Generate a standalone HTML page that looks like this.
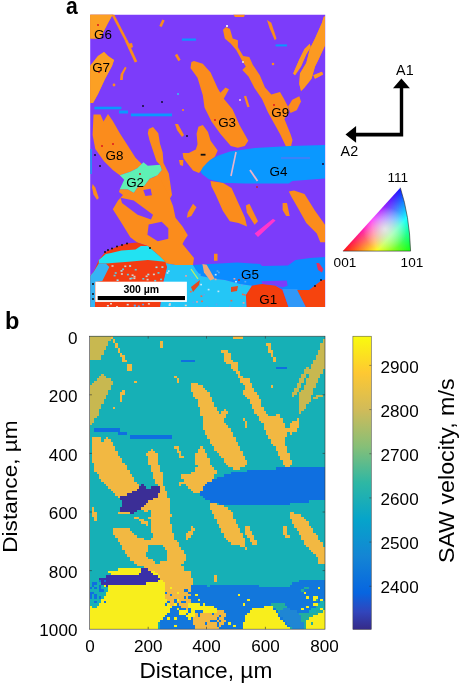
<!DOCTYPE html><html><head><meta charset="utf-8"><title>Figure</title><style>html,body{margin:0;padding:0;background:#fff}svg{display:block}text{font-family:'Liberation Sans',Arial,sans-serif;fill:#000}</style></head><body>
<svg width="460" height="685" viewBox="0 0 460 685">
<defs>
<clipPath id="c1"><rect x="0.2" y="0.8" width="235" height="292.2"/></clipPath>
<clipPath id="c2"><rect x="0" y="0" width="235.5" height="293"/></clipPath>
<linearGradient id="par" x1="0" y1="1" x2="0" y2="0"><stop offset="0" stop-color="#352a87"/><stop offset="0.06" stop-color="#3145bc"/><stop offset="0.125" stop-color="#0765e0"/><stop offset="0.25" stop-color="#1485d4"/><stop offset="0.375" stop-color="#06a4ca"/><stop offset="0.5" stop-color="#2eb7a4"/><stop offset="0.625" stop-color="#87bf77"/><stop offset="0.75" stop-color="#d1bb59"/><stop offset="0.875" stop-color="#fec832"/><stop offset="1" stop-color="#f9fb0e"/></linearGradient>
<linearGradient id="gr" gradientUnits="userSpaceOnUse" x1="342.9" y1="251.1" x2="408.8" y2="240.4"><stop offset="0" stop-color="#ff1010"/><stop offset="0.5" stop-color="#ff1010"/><stop offset="1" stop-color="#000"/></linearGradient>
<linearGradient id="gg" gradientUnits="userSpaceOnUse" x1="410.6" y1="251.1" x2="373.4" y2="217.4"><stop offset="0" stop-color="#10ff10"/><stop offset="0.5" stop-color="#10ff10"/><stop offset="1" stop-color="#000"/></linearGradient>
<linearGradient id="gb" gradientUnits="userSpaceOnUse" x1="400.3" y1="187.7" x2="400.3" y2="251.1"><stop offset="0" stop-color="#1010ff"/><stop offset="0.5" stop-color="#1010ff"/><stop offset="1" stop-color="#000"/></linearGradient>
<radialGradient id="gw" gradientUnits="userSpaceOnUse" cx="385" cy="229" r="22"><stop offset="0" stop-color="#aaa"/><stop offset="1" stop-color="#000"/></radialGradient>
<clipPath id="tri"><path d="M342.9 251.1 L400.3 187.7 Q409.5 216 410.6 251.1 Z"/></clipPath>
</defs>
<rect width="460" height="685" fill="#fff"/>
<g transform="translate(90,14)" clip-path="url(#c1)"><rect x="0" y="0" width="236" height="294" fill="#7c3cfa"/><g fill="#fb8c1c" color="#fb8c1c"><polygon points="0,0 23,0 18,9 10,24.5 0,24.5"/><polygon points="0,52 8,42 14,38 18,42 24,46 22,52 15,65 8,80 3,89 0,89"/><polygon points="35,52.7 36.6,53.8 33.3,60.3 32.8,66 30,66 30.6,60.3"/><circle cx="24" cy="71" r="1.4"/><polygon points="101.4,48 104,47 112.8,49.8 120.6,58.5 127.7,74.3 130.3,78.7 135.5,73.4 139,75.2 133.8,84.8 142.5,95.3 149.5,111 158.3,126.8 154.8,132 147.8,133.8 140.8,132 130.3,119.8 121.5,107.5 114.5,93.5 112.8,81.3 107.5,63.8 100.5,54"/><polygon points="108.4,112.8 112.8,111 118,118 120.6,126.8 127.7,136.4 125,142.6 116.3,149.6 111,156.6 100.5,153 93.5,144.3 92.6,139 98.8,139 105.8,135.6 107.5,130.3 106.6,119.8"/><polygon points="133,15.8 136,13 140,14.9 142.7,24.5 147.9,26.3 147.9,33.3 153.2,42 159.3,42.9 162.8,50.8 169.8,61.3 175,73.5 181.3,80.5 190,78 193.5,84 198,92.8 198.8,98 194.4,105 200.5,120 202.5,126 201,132.5 196,132.5 190,120 177.8,98 172,85 164.5,74 158.5,62.5 152.3,56 155.8,52.5 151.4,45.5 146.2,35.9 140.9,29.8 134.8,24.5"/><polygon points="198,92.8 202.3,85.8 209.3,82.3 211,87.5 206.7,96.3 200.5,99"/><polygon points="235,2 233.5,3.4 232,8.8 225,24.5 219.8,35 216.3,49 210,59.5 209.3,70 211,77 214.5,73.5 221.5,64.8 225,52.5 228.5,45.5 235,31.5"/><polygon points="219.8,29.8 214.5,35 209.3,45.5 203.2,59.5 205,61.3 211,52.5 216.3,40.3 220.6,33.3"/><polygon points="223.3,61.3 232,57.8 233,60.4 225,64.8"/><polygon points="177,6 181.3,8.8 186.5,24.5 184.8,26.3 179.5,14"/><circle cx="183" cy="50" r="1.3"/><polygon points="143,0 155,0 154,3 145,3"/><polygon points="3.5,100.5 10.5,100.5 13.5,107.5 18,100 22.8,107 29.8,119.3 37.7,131.5 45.5,143.8 52.5,150.8 47.3,154.3 40.3,157.8 29.8,161.3 22.8,156 14,147.3 5.3,135 2.6,121"/><polygon points="58.7,115 63,113 68.3,119.3 70,129.8 72.7,138.5 73.5,149 78.8,159.5 82,181 80.3,184 77,184 70,170 67.4,161.3 71.8,156 70,150.8 66.5,147.3 63,136.8 59.5,126.3 57.8,119.3"/><polygon points="85,110 88,110 94,121 92,123 87,116"/><polygon points="2.6,170 5.3,173.6 8.8,184 7,185.8 3.5,180.6 2,173.6"/><polygon points="29.8,175.3 37.7,175.3 43.8,178.8 47.3,173.6 54.3,171.8 59.5,164.8 64,163 68,160.5 73,170 79.5,183 83,192 85.5,203.8 92.5,212.5 97.8,221.3 94.3,226.5 92.5,230 104,244 103,251 85.5,251 75,249.3 70,242.5 57.8,232 47.3,228.5 40.3,223.3 30.6,207.5 22.8,195.3 28,186.5 33,181 29,178"/><polygon points="103,189.8 106.5,193.3 101.3,202 96.9,203.8 97.8,198.5"/><polygon points="95,146 118.8,146 112.7,154.8 109,159 103,156.5"/><polygon points="89,146 93.4,146 93,152 90,151"/><polygon points="120.5,167 132.8,168.8 141.5,174 155,203.8 157,212.5 148.5,209 139.8,207.3 132.8,196.8 125.8,181 121.4,172.3"/><polygon points="155.9,191.5 159.4,189.8 168,207.3 164.6,210.8 156.8,198.5"/><polygon points="192.6,189 197,189 199.7,202 196.2,202 192.6,196"/><polygon points="198.8,177.5 204,176.6 214.5,180 225,196.8 235,210.8 235,228.3 230.3,228.3 226.8,219.6 216.3,209 207.5,193.3 201.4,182.8"/><polygon points="124,239.7 127.5,239.7 127.5,246.7 124,246.7"/><line x1="70.5" y1="12.5" x2="73.5" y2="6" stroke-width="2.6" stroke="currentColor"/><line x1="86" y1="40.5" x2="89.5" y2="46.5" stroke-width="2.6" stroke="currentColor"/><line x1="155" y1="82" x2="158.5" y2="93" stroke-width="2.4" stroke="currentColor"/><line x1="153" y1="83" x2="159" y2="92.7" stroke-width="0"/><line x1="22.5" y1="0" x2="36" y2="26" stroke-width="2.6" stroke="currentColor"/><line x1="36" y1="26" x2="46" y2="48" stroke-width="2.8" stroke="#fb8c1c"/><polygon points="37,30 42,29 43,33 39,35"/></g><g fill="#fca024"><polygon points="0,0 23,0 18,9 10,24.5 0,24.5"/><polygon points="0,52 8,42 14,38 18,42 24,46 22,52 15,65 8,80 3,89 0,89"/></g><g fill="#fc9a22"><polygon points="235,2 233.5,3.4 232,8.8 225,24.5 219.8,35 216.3,49 210,59.5 209.3,70 211,77 214.5,73.5 221.5,64.8 225,52.5 228.5,45.5 235,31.5"/><polygon points="219.8,29.8 214.5,35 209.3,45.5 203.2,59.5 205,61.3 211,52.5 216.3,40.3 220.6,33.3"/><polygon points="223.3,61.3 232,57.8 233,60.4 225,64.8"/></g><g fill="#7c3cfa"><polygon points="30.6,183.8 43.7,186.4 63,200.8 61,205.5 47.6,200.8 32,189"/><polygon points="58.7,210.4 71.7,207.7 78.3,214.3 78.3,224.7 67.8,227.3 57.4,220.8"/><polygon points="53.3,176 60.6,174.7 61.9,181.2 55.4,182"/></g><g fill="#5ef0b4"><polygon points="53.4,148.2 57.8,151.7 70,150.8 71.8,156 67.4,161.3 59.5,164.8 54.3,171.8 47.3,173.6 43.8,178.8 37.7,175.3 29.8,175.3 34.2,165.7 29.8,161.3 40.3,157.8 47.3,154.3"/></g><g fill="#0a98ff"><polygon points="110.5,157.5 113,153 120,146 127.7,141.7 140,137.5 165,134 200,132 235,131 235,164.4 202.3,167 198.8,169.6 155,169.5 132.8,168.8 118.8,165.3 112,160"/><rect x="92" y="24.5" width="14" height="2.2"/><rect x="4.4" y="92.7" width="27" height="2.6"/><rect x="29" y="96.5" width="9" height="3"/><rect x="41" y="99.5" width="41" height="2.8"/><rect x="185.6" y="30.4" width="11.4" height="2"/></g><rect x="0" y="135" width="2" height="25" fill="#2a8cf6"/><line x1="146" y1="138" x2="141" y2="162" stroke-width="1.6" stroke="#e8b4cc"/><line x1="160" y1="156" x2="167.5" y2="167" stroke-width="1.8" stroke="#e8b4cc"/><line x1="191" y1="144" x2="220" y2="144" stroke-width="1.2" stroke="#6a6cf6"/><g fill="#0a8cff"><polygon points="103,251 120,250 147,248.5 170,250 172,252 198,251.5 205.5,246 220,244 235,243 235,266 231.5,266.4 224.6,271.7 219.3,276 207.2,276 192.4,275 185,271 172.4,270 162,271.7 150,270 135,266 124.6,264.7 111,262 106,256"/></g><polygon points="75,249.3 85.5,251 103,251 106,256 111,262 124.6,264.7 135,266 150,270 162,271.7 156,281 156.7,293 70,293 73.5,267 77,253" fill="#24c6f6"/><polygon points="0,262 3.5,258 8.8,246 15,238.2 26.3,233 36.8,229.4 47.3,228.5 57.8,232 70,242.5 75.3,247.8 77,253 73.5,267 70,293 0,293" fill="#f33c12"/><polygon points="8.8,246 15.8,240 21,239 31.5,236.4 45.5,235.5 50.8,232 57.8,232 70,242.5 75.3,247.8 57.8,246 38.5,247.8 15.8,249.5 8.8,249.5" fill="#22e2f2"/><polygon points="0,262 3.5,258 8.8,249.5 15.8,249.5 19.3,253 12.3,267 5,268 5,293 0,293" fill="#36b4f4"/><polygon points="156.7,293 155.9,281.2 162,271.7 172.4,270 185.4,271.7 192.4,276 198.5,293" fill="#f43e0c"/><polygon points="171.5,267.3 196.7,266.4 197.6,271.7 192.4,273.4 184.6,270.8 172.4,270" fill="#7c3cfa"/><polygon points="192.4,275 207.2,275 215.9,293 198.5,293" fill="#3098f8"/><polygon points="207.2,276 219.3,276 224.6,271.7 231.5,266.4 235,265.6 235,293 215.9,293" fill="#f6440e"/><polygon points="226.3,249 229,249 233.3,255 232,258.6 228,256" fill="#e8305a"/><polygon points="112.4,250 116.7,250.8 124.6,264.7 120.2,266.4 114,258.6" fill="#f0a878"/><line x1="101" y1="255" x2="108" y2="265" stroke-width="1.3" stroke="#c4f060"/><polygon points="101,273 110,266 109,271 103,278" fill="#e24a20"/><polygon points="141,273 148,272 147,277 141,278" fill="#e24a20"/><polygon points="164.6,219.5 168,223 185.6,206.4 183,204.7" fill="#ff36cc"/><circle cx="53" cy="92" r="1.1" fill="#181040"/><circle cx="72" cy="88" r="1.1" fill="#181040"/><circle cx="88" cy="80" r="1.1" fill="#30c0f0"/><circle cx="93" cy="96" r="1.1" fill="#fb8c1c"/><circle cx="8" cy="11" r="1.1" fill="#e02020"/><circle cx="9" cy="58" r="1.1" fill="#e02020"/><circle cx="12" cy="132" r="1.1" fill="#e02020"/><circle cx="23" cy="130" r="1.1" fill="#e02020"/><circle cx="5" cy="141" r="1.1" fill="#181040"/><circle cx="10" cy="152" r="1.1" fill="#181040"/><circle cx="50" cy="160" r="1.1" fill="#c03020"/><circle cx="137" cy="12" r="1.1" fill="#ffffff"/><circle cx="153" cy="48" r="1.1" fill="#f0e0d0"/><circle cx="167" cy="173" r="1.1" fill="#c02040"/><circle cx="97" cy="122" r="1.1" fill="#181040"/><circle cx="125" cy="106" r="1.1" fill="#e02020"/><circle cx="184" cy="91" r="1.1" fill="#e02020"/><circle cx="149" cy="266" r="1.1" fill="#c03030"/><circle cx="233" cy="150" r="1.1" fill="#181040"/><circle cx="150" cy="86" r="1.1" fill="#f0c0e0"/><rect x="110.7" y="139.8" width="4.8" height="1.8" fill="#101010"/><rect x="30.9" y="259.2" width="2" height="1.6" fill="#d8d0c8"/><rect x="67.5" y="258.1" width="2" height="1.6" fill="#58d0e8"/><rect x="21.5" y="251.2" width="2" height="1.6" fill="#d8d0c8"/><rect x="32.0" y="254.5" width="2" height="1.6" fill="#58d0e8"/><rect x="43.4" y="263.5" width="2" height="1.6" fill="#d8d0c8"/><rect x="39.4" y="263.9" width="2" height="1.6" fill="#9ee6f4"/><rect x="52.3" y="264.0" width="2" height="1.6" fill="#58d0e8"/><rect x="39.1" y="251.2" width="2" height="1.6" fill="#9ee6f4"/><rect x="26.6" y="265.4" width="2" height="1.6" fill="#9ee6f4"/><rect x="34.3" y="251.5" width="2" height="1.6" fill="#d8d0c8"/><rect x="43.5" y="261.8" width="2" height="1.6" fill="#d8d0c8"/><rect x="56.6" y="264.8" width="2" height="1.6" fill="#d8d0c8"/><rect x="57.3" y="259.7" width="2" height="1.6" fill="#9ee6f4"/><rect x="65.5" y="252.5" width="2" height="1.6" fill="#9ee6f4"/><rect x="44.7" y="254.9" width="2" height="1.6" fill="#58d0e8"/><rect x="41.6" y="260.4" width="2" height="1.6" fill="#d8d0c8"/><rect x="40.7" y="263.5" width="2" height="1.6" fill="#58d0e8"/><rect x="36.9" y="259.8" width="2" height="1.6" fill="#58d0e8"/><rect x="30.5" y="256.1" width="2" height="1.6" fill="#9ee6f4"/><rect x="64.2" y="265.9" width="2" height="1.6" fill="#58d0e8"/><rect x="55.6" y="261.5" width="2" height="1.6" fill="#d8d0c8"/><rect x="70.1" y="264.6" width="2" height="1.6" fill="#58d0e8"/><rect x="23.6" y="260.8" width="2" height="1.6" fill="#58d0e8"/><rect x="62.9" y="259.6" width="2" height="1.6" fill="#d8d0c8"/><rect x="24.7" y="258.2" width="2" height="1.6" fill="#58d0e8"/><rect x="71.4" y="252.3" width="2" height="1.6" fill="#9ee6f4"/><rect x="108.8" y="259.7" width="1.8" height="1.6" fill="#58a8f0"/><rect x="110.2" y="269.8" width="1.8" height="1.6" fill="#c8e8f8"/><rect x="102.5" y="287.5" width="1.8" height="1.6" fill="#58a8f0"/><rect x="116.4" y="291.9" width="1.8" height="1.6" fill="#58a8f0"/><rect x="76.6" y="258.1" width="1.8" height="1.6" fill="#c8e8f8"/><rect x="151.9" y="290.9" width="1.8" height="1.6" fill="#58a8f0"/><rect x="124.8" y="259.9" width="1.8" height="1.6" fill="#c8e8f8"/><rect x="154.4" y="266.9" width="1.8" height="1.6" fill="#58a8f0"/><rect x="152.7" y="288.1" width="1.8" height="1.6" fill="#f0a0a0"/><rect x="106.1" y="287.1" width="1.8" height="1.6" fill="#f0a0a0"/><rect x="127.5" y="276.6" width="1.8" height="1.6" fill="#c8e8f8"/><rect x="125.6" y="289.7" width="1.8" height="1.6" fill="#58a8f0"/><rect x="110.5" y="281.4" width="1.8" height="1.6" fill="#e86a50"/><rect x="150.9" y="270.6" width="1.8" height="1.6" fill="#58a8f0"/><rect x="117.7" y="274.8" width="1.8" height="1.6" fill="#c8e8f8"/><rect x="139.1" y="291.5" width="1.8" height="1.6" fill="#58a8f0"/><rect x="126.6" y="256.3" width="1.8" height="1.6" fill="#58a8f0"/><rect x="113.3" y="279.8" width="1.8" height="1.6" fill="#58a8f0"/><rect x="124.7" y="264.6" width="1.8" height="1.6" fill="#f0a0a0"/><rect x="77.8" y="256.3" width="1.8" height="1.6" fill="#c8e8f8"/><rect x="153.1" y="263.5" width="1.8" height="1.6" fill="#f0a0a0"/><rect x="99.9" y="276.9" width="1.8" height="1.6" fill="#e86a50"/><rect x="105.1" y="265.9" width="1.8" height="1.6" fill="#58a8f0"/><rect x="143.5" y="264.0" width="1.8" height="1.6" fill="#f0a0a0"/><rect x="153.7" y="280.0" width="1.8" height="1.6" fill="#e86a50"/><rect x="100.8" y="262.5" width="1.8" height="1.6" fill="#58a8f0"/><rect x="95.1" y="261.1" width="1.8" height="1.6" fill="#f0a0a0"/><rect x="128.0" y="257.7" width="1.8" height="1.6" fill="#58a8f0"/><rect x="151.9" y="279.6" width="1.8" height="1.6" fill="#e86a50"/><rect x="111.1" y="286.5" width="1.8" height="1.6" fill="#e86a50"/><rect x="78.7" y="290.4" width="1.8" height="1.6" fill="#58a8f0"/><rect x="140.5" y="285.9" width="1.8" height="1.6" fill="#e86a50"/><rect x="145.1" y="266.9" width="1.8" height="1.6" fill="#c8e8f8"/><rect x="78.6" y="290.4" width="2" height="1.5" fill="#c8e8f8"/><rect x="43.9" y="291.1" width="2" height="1.5" fill="#58a8f0"/><rect x="47.8" y="291.5" width="2" height="1.5" fill="#58a8f0"/><rect x="43.8" y="290.6" width="2" height="1.5" fill="#58a8f0"/><rect x="20.0" y="289.0" width="2" height="1.5" fill="#f0d0c0"/><rect x="94.8" y="290.7" width="2" height="1.5" fill="#f0d0c0"/><rect x="26.0" y="292.0" width="2" height="1.5" fill="#f0d0c0"/><rect x="73.3" y="292.9" width="2" height="1.5" fill="#f0d0c0"/><rect x="36.7" y="289.9" width="2" height="1.5" fill="#c8e8f8"/><rect x="83.2" y="292.9" width="2" height="1.5" fill="#c8e8f8"/><rect x="78.9" y="289.2" width="2" height="1.5" fill="#f0d0c0"/><rect x="52.1" y="289.8" width="2" height="1.5" fill="#58a8f0"/><rect x="57.9" y="289.1" width="2" height="1.5" fill="#f0d0c0"/><rect x="16.9" y="291.0" width="2" height="1.5" fill="#c8e8f8"/><circle cx="15" cy="238" r="1" fill="#101018"/><circle cx="18" cy="236" r="1" fill="#101018"/><circle cx="22" cy="234.5" r="1" fill="#101018"/><circle cx="27" cy="232.5" r="1" fill="#101018"/><circle cx="32" cy="231" r="1" fill="#101018"/><circle cx="37" cy="229.5" r="1" fill="#101018"/><circle cx="60" cy="234" r="1" fill="#101018"/><circle cx="3" cy="270" r="1" fill="#101018"/><circle cx="3" cy="280" r="1" fill="#101018"/><circle cx="3" cy="285" r="1" fill="#101018"/><circle cx="225" cy="272" r="1" fill="#101018"/><circle cx="231" cy="266" r="1" fill="#101018"/></g>
<rect x="95.3" y="281.7" width="91.6" height="20.2" fill="#fff"/>
<rect x="97.7" y="296" width="87.3" height="4.1" fill="#000"/>
<text x="141.3" y="293.3" font-size="10.5" font-weight="bold" text-anchor="middle">300 µm</text>
<text x="94" y="38.5" font-size="13.4">G6</text>
<text x="92.2" y="72" font-size="13.4">G7</text>
<text x="105.5" y="160.2" font-size="13.4">G8</text>
<text x="126.2" y="186.6" font-size="13.4">G2</text>
<text x="218.2" y="127.1" font-size="13.4">G3</text>
<text x="271.3" y="117.3" font-size="13.4">G9</text>
<text x="269.5" y="175.8" font-size="13.4">G4</text>
<text x="241" y="279.1" font-size="13.4">G5</text>
<text x="259.3" y="304" font-size="13.4">G1</text>
<text transform="translate(66,14.1) scale(0.88,1)" font-size="24" font-weight="bold">a</text>
<text x="4.9" y="328.9" font-size="23.5" font-weight="bold">b</text>
<path d="M401.4 78.4 L409.9 88.2 L403.2 88.2 L403.2 136.4 L356.1 136.4 L356.1 142.7 L345.5 134.6 L356.1 125.9 L356.1 132.7 L399.8 132.7 L399.8 88.2 L393 88.2 Z" fill="#000"/>
<text transform="translate(396.1,74.8) scale(1.04,1)" font-size="13.8">A1</text>
<text transform="translate(340.6,155.8) scale(1.04,1)" font-size="13.8">A2</text>
<g clip-path="url(#tri)"><g style="isolation:isolate"><rect x="340" y="185" width="75" height="70" fill="#000"/><rect x="340" y="185" width="75" height="70" fill="url(#gr)" style="mix-blend-mode:screen"/><rect x="340" y="185" width="75" height="70" fill="url(#gg)" style="mix-blend-mode:screen"/><rect x="340" y="185" width="75" height="70" fill="url(#gb)" style="mix-blend-mode:screen"/><rect x="340" y="185" width="75" height="70" fill="url(#gw)" style="mix-blend-mode:screen"/></g></g>
<path d="M400.3 187.7 Q409.5 216 410.6 251.1 L342.9 251.1" fill="none" stroke="#222" stroke-width="0.6"/>
<text transform="translate(387.4,182.3) scale(1.09,1)" font-size="12.5">111</text>
<text transform="translate(333.6,266.7) scale(1.09,1)" font-size="12.5">001</text>
<text transform="translate(400.6,266.7) scale(1.09,1)" font-size="12.5">101</text>
<g transform="translate(89.5,336.2)" clip-path="url(#c2)" shape-rendering="crispEdges"><rect x="0" y="0" width="235.5" height="293" fill="#16b0b6"/><path fill="#c8b850" d="M0.5 -0.2h21v3h-21zM0.5 2.8h21v2h-21zM233.5 2.8h2v2h-2zM0.5 4.8h18v2h-18zM233.5 4.8h2v2h-2zM0.5 6.8h18v3h-18zM230.5 6.8h5v3h-5zM0.5 9.8h16v2h-16zM230.5 9.8h5v2h-5zM0.5 11.8h16v2h-16zM230.5 11.8h5v2h-5zM0.5 13.8h14v3h-14zM228.5 13.8h7v3h-7zM0.5 16.8h14v2h-14zM228.5 16.8h7v2h-7zM0.5 18.8h11v2h-11zM226.5 18.8h9v2h-9zM0.5 20.8h11v3h-11zM226.5 20.8h9v3h-9zM223.5 23.8h12v2h-12zM223.5 25.8h12v2h-12zM221.5 27.8h14v3h-14zM216.5 30.8h3v2h-3zM221.5 30.8h14v2h-14zM214.5 32.8h19v2h-19zM214.5 34.8h19v3h-19zM11.5 37.8h3v2h-3zM211.5 37.8h5v2h-5zM219.5 37.8h11v2h-11zM9.5 39.8h7v2h-7zM211.5 39.8h5v2h-5zM219.5 39.8h11v2h-11zM7.5 41.8h14v3h-14zM209.5 41.8h5v3h-5zM216.5 41.8h12v3h-12zM4.5 44.8h19v2h-19zM209.5 44.8h5v2h-5zM216.5 44.8h12v2h-12zM2.5 46.8h21v2h-21zM207.5 46.8h4v2h-4zM216.5 46.8h10v2h-10zM0.5 48.8h21v3h-21zM207.5 48.8h4v3h-4zM214.5 48.8h12v3h-12zM0.5 51.8h21v2h-21zM204.5 51.8h5v2h-5zM214.5 51.8h9v2h-9zM0.5 53.8h18v2h-18zM204.5 53.8h5v2h-5zM211.5 53.8h12v2h-12zM0.5 55.8h18v3h-18zM202.5 55.8h5v3h-5zM209.5 55.8h14v3h-14zM0.5 58.8h16v2h-16zM202.5 58.8h2v2h-2zM209.5 58.8h12v2h-12zM226.5 58.8h7v2h-7zM0.5 60.8h16v2h-16zM209.5 60.8h12v2h-12zM223.5 60.8h5v2h-5zM0.5 62.8h14v3h-14zM209.5 62.8h12v3h-12zM0.5 65.8h14v2h-14zM209.5 65.8h10v2h-10zM0.5 67.8h11v3h-11zM209.5 67.8h7v3h-7zM0.5 70.8h11v2h-11zM209.5 70.8h7v2h-7zM0.5 72.8h9v2h-9zM209.5 72.8h5v2h-5zM0.5 74.8h9v3h-9zM209.5 74.8h2v3h-2zM0.5 77.8h9v2h-9zM0.5 79.8h7v2h-7zM0.5 81.8h4v3h-4zM0.5 84.8h4v2h-4zM0.5 86.8h2v2h-2z"/><path fill="#f2b842" d="M21.5 -0.2h2v3h-2zM143.5 -0.2h10v3h-10zM23.5 2.8h2v2h-2zM23.5 4.8h2v2h-2zM70.5 4.8h3v2h-3zM25.5 6.8h3v3h-3zM70.5 6.8h3v3h-3zM176.5 6.8h5v3h-5zM25.5 9.8h3v2h-3zM70.5 9.8h3v2h-3zM178.5 9.8h3v2h-3zM28.5 11.8h2v2h-2zM178.5 11.8h3v2h-3zM28.5 13.8h2v3h-2zM131.5 13.8h7v3h-7zM178.5 13.8h5v3h-5zM30.5 16.8h2v2h-2zM134.5 16.8h7v2h-7zM181.5 16.8h2v2h-2zM30.5 18.8h5v2h-5zM134.5 18.8h7v2h-7zM181.5 18.8h2v2h-2zM32.5 20.8h3v3h-3zM134.5 20.8h7v3h-7zM183.5 20.8h3v3h-3zM32.5 23.8h5v2h-5zM134.5 23.8h9v2h-9zM183.5 23.8h3v2h-3zM136.5 25.8h12v2h-12zM37.5 27.8h5v3h-5zM141.5 27.8h7v3h-7zM37.5 30.8h5v2h-5zM141.5 30.8h7v2h-7zM37.5 32.8h5v2h-5zM143.5 32.8h5v2h-5zM146.5 34.8h4v3h-4zM148.5 37.8h2v2h-2zM84.5 39.8h3v2h-3zM148.5 39.8h5v2h-5zM87.5 41.8h2v3h-2zM150.5 41.8h10v3h-10zM44.5 44.8h3v2h-3zM87.5 44.8h2v2h-2zM150.5 44.8h10v2h-10zM101.5 46.8h7v2h-7zM153.5 46.8h9v2h-9zM101.5 48.8h12v3h-12zM155.5 48.8h7v3h-7zM181.5 48.8h2v3h-2zM101.5 51.8h14v2h-14zM155.5 51.8h9v2h-9zM32.5 53.8h3v2h-3zM101.5 53.8h16v2h-16zM153.5 53.8h11v2h-11zM30.5 55.8h5v3h-5zM103.5 55.8h17v3h-17zM153.5 55.8h14v3h-14zM30.5 58.8h2v2h-2zM103.5 58.8h17v2h-17zM155.5 58.8h14v2h-14zM30.5 60.8h2v2h-2zM105.5 60.8h17v2h-17zM157.5 60.8h12v2h-12zM30.5 62.8h2v3h-2zM108.5 62.8h14v3h-14zM160.5 62.8h11v3h-11zM108.5 65.8h16v2h-16zM160.5 65.8h11v2h-11zM108.5 67.8h16v3h-16zM162.5 67.8h9v3h-9zM23.5 70.8h2v2h-2zM110.5 70.8h17v2h-17zM162.5 70.8h12v2h-12zM110.5 72.8h17v2h-17zM134.5 72.8h2v2h-2zM164.5 72.8h10v2h-10zM110.5 74.8h19v3h-19zM131.5 74.8h7v3h-7zM164.5 74.8h12v3h-12zM110.5 77.8h26v2h-26zM167.5 77.8h11v2h-11zM186.5 77.8h4v2h-4zM113.5 79.8h23v2h-23zM169.5 79.8h21v2h-21zM113.5 81.8h21v3h-21zM153.5 81.8h2v3h-2zM169.5 81.8h24v3h-24zM207.5 81.8h2v3h-2zM113.5 84.8h21v2h-21zM155.5 84.8h2v2h-2zM171.5 84.8h22v2h-22zM202.5 84.8h7v2h-7zM113.5 86.8h23v2h-23zM155.5 86.8h2v2h-2zM174.5 86.8h21v2h-21zM200.5 86.8h9v2h-9zM113.5 88.8h25v3h-25zM155.5 88.8h2v3h-2zM174.5 88.8h21v3h-21zM200.5 88.8h9v3h-9zM113.5 91.8h28v2h-28zM174.5 91.8h33v2h-33zM115.5 93.8h26v2h-26zM176.5 93.8h31v2h-31zM115.5 95.8h28v3h-28zM176.5 95.8h21v3h-21zM200.5 95.8h2v3h-2zM117.5 98.8h26v2h-26zM178.5 98.8h19v2h-19zM2.5 100.8h9v2h-9zM16.5 100.8h2v2h-2zM117.5 100.8h29v2h-29zM178.5 100.8h17v2h-17zM2.5 102.8h9v3h-9zM14.5 102.8h7v3h-7zM120.5 102.8h26v3h-26zM181.5 102.8h14v3h-14zM2.5 105.8h21v2h-21zM120.5 105.8h28v2h-28zM181.5 105.8h14v2h-14zM2.5 107.8h21v2h-21zM122.5 107.8h26v2h-26zM183.5 107.8h12v2h-12zM2.5 109.8h23v3h-23zM84.5 109.8h5v3h-5zM110.5 109.8h3v3h-3zM124.5 109.8h26v3h-26zM186.5 109.8h11v3h-11zM2.5 112.8h23v2h-23zM61.5 112.8h2v2h-2zM87.5 112.8h2v2h-2zM108.5 112.8h7v2h-7zM124.5 112.8h26v2h-26zM186.5 112.8h11v2h-11zM2.5 114.8h26v2h-26zM58.5 114.8h7v2h-7zM87.5 114.8h4v2h-4zM108.5 114.8h7v2h-7zM127.5 114.8h26v2h-26zM188.5 114.8h9v2h-9zM2.5 116.8h26v3h-26zM56.5 116.8h12v3h-12zM89.5 116.8h2v3h-2zM105.5 116.8h12v3h-12zM129.5 116.8h24v3h-24zM188.5 116.8h12v3h-12zM2.5 119.8h28v2h-28zM58.5 119.8h10v2h-10zM89.5 119.8h5v2h-5zM105.5 119.8h12v2h-12zM131.5 119.8h24v2h-24zM190.5 119.8h10v2h-10zM2.5 121.8h30v2h-30zM58.5 121.8h10v2h-10zM105.5 121.8h15v2h-15zM134.5 121.8h21v2h-21zM190.5 121.8h10v2h-10zM2.5 123.8h30v3h-30zM58.5 123.8h10v3h-10zM105.5 123.8h15v3h-15zM134.5 123.8h23v3h-23zM193.5 123.8h9v3h-9zM4.5 126.8h31v2h-31zM58.5 126.8h10v2h-10zM105.5 126.8h15v2h-15zM136.5 126.8h21v2h-21zM193.5 126.8h9v2h-9zM4.5 128.8h33v2h-33zM61.5 128.8h9v2h-9zM108.5 128.8h14v2h-14zM138.5 128.8h17v2h-17zM195.5 128.8h5v2h-5zM4.5 130.8h33v3h-33zM61.5 130.8h9v3h-9zM105.5 130.8h19v3h-19zM143.5 130.8h7v3h-7zM4.5 133.8h36v2h-36zM61.5 133.8h9v2h-9zM105.5 133.8h22v2h-22zM7.5 135.8h33v2h-33zM63.5 135.8h10v2h-10zM101.5 135.8h26v2h-26zM9.5 137.8h33v3h-33zM63.5 137.8h10v3h-10zM91.5 137.8h33v3h-33zM9.5 140.8h35v2h-35zM63.5 140.8h10v2h-10zM91.5 140.8h33v2h-33zM11.5 142.8h33v3h-33zM65.5 142.8h8v3h-8zM94.5 142.8h28v3h-28zM14.5 145.8h33v2h-33zM65.5 145.8h8v2h-8zM89.5 145.8h28v2h-28zM16.5 147.8h33v2h-33zM68.5 147.8h5v2h-5zM89.5 147.8h2v2h-2zM96.5 147.8h19v2h-19zM18.5 149.8h31v3h-31zM70.5 149.8h5v3h-5zM98.5 149.8h15v3h-15zM21.5 152.8h26v2h-26zM70.5 152.8h5v2h-5zM101.5 152.8h12v2h-12zM23.5 154.8h19v2h-19zM70.5 154.8h7v2h-7zM103.5 154.8h7v2h-7zM25.5 156.8h12v3h-12zM68.5 156.8h9v3h-9zM28.5 159.8h2v2h-2zM68.5 159.8h9v2h-9zM63.5 161.8h17v2h-17zM58.5 163.8h22v3h-22zM56.5 166.8h24v2h-24zM120.5 166.8h7v2h-7zM54.5 168.8h26v2h-26zM120.5 168.8h14v2h-14zM2.5 170.8h2v3h-2zM51.5 170.8h29v3h-29zM120.5 170.8h18v3h-18zM2.5 173.8h2v2h-2zM54.5 173.8h4v2h-4zM61.5 173.8h19v2h-19zM122.5 173.8h19v2h-19zM2.5 175.8h5v2h-5zM28.5 175.8h12v2h-12zM61.5 175.8h19v2h-19zM122.5 175.8h21v2h-21zM200.5 175.8h4v2h-4zM2.5 177.8h5v3h-5zM61.5 177.8h21v3h-21zM124.5 177.8h19v3h-19zM200.5 177.8h11v3h-11zM4.5 180.8h3v2h-3zM44.5 180.8h5v2h-5zM58.5 180.8h22v2h-22zM124.5 180.8h19v2h-19zM200.5 180.8h14v2h-14zM4.5 182.8h3v2h-3zM49.5 182.8h5v2h-5zM61.5 182.8h19v2h-19zM127.5 182.8h19v2h-19zM202.5 182.8h14v2h-14zM51.5 184.8h7v3h-7zM61.5 184.8h19v3h-19zM127.5 184.8h19v3h-19zM202.5 184.8h17v3h-17zM56.5 187.8h2v2h-2zM61.5 187.8h21v2h-21zM129.5 187.8h19v2h-19zM204.5 187.8h15v2h-15zM61.5 189.8h21v2h-21zM101.5 189.8h2v2h-2zM129.5 189.8h19v2h-19zM155.5 189.8h5v2h-5zM193.5 189.8h4v2h-4zM204.5 189.8h17v2h-17zM23.5 191.8h17v3h-17zM61.5 191.8h21v3h-21zM101.5 191.8h4v3h-4zM131.5 191.8h19v3h-19zM155.5 191.8h5v3h-5zM193.5 191.8h4v3h-4zM207.5 191.8h16v3h-16zM23.5 194.8h19v2h-19zM61.5 194.8h21v2h-21zM98.5 194.8h5v2h-5zM131.5 194.8h19v2h-19zM155.5 194.8h7v2h-7zM193.5 194.8h4v2h-4zM209.5 194.8h14v2h-14zM23.5 196.8h21v2h-21zM63.5 196.8h21v2h-21zM96.5 196.8h7v2h-7zM134.5 196.8h19v2h-19zM155.5 196.8h7v2h-7zM193.5 196.8h4v2h-4zM209.5 196.8h17v2h-17zM25.5 198.8h22v3h-22zM63.5 198.8h21v3h-21zM96.5 198.8h5v3h-5zM134.5 198.8h19v3h-19zM157.5 198.8h7v3h-7zM195.5 198.8h5v3h-5zM211.5 198.8h17v3h-17zM28.5 201.8h26v2h-26zM61.5 201.8h23v2h-23zM96.5 201.8h2v2h-2zM136.5 201.8h19v2h-19zM160.5 201.8h4v2h-4zM211.5 201.8h17v2h-17zM28.5 203.8h59v2h-59zM138.5 203.8h17v2h-17zM160.5 203.8h7v2h-7zM214.5 203.8h16v2h-16zM30.5 205.8h59v3h-59zM141.5 205.8h14v3h-14zM162.5 205.8h5v3h-5zM214.5 205.8h19v3h-19zM32.5 208.8h26v2h-26zM73.5 208.8h16v2h-16zM150.5 208.8h5v2h-5zM216.5 208.8h17v2h-17zM32.5 210.8h26v3h-26zM75.5 210.8h16v3h-16zM155.5 210.8h2v3h-2zM219.5 210.8h16v3h-16zM35.5 213.8h23v2h-23zM77.5 213.8h17v2h-17zM221.5 213.8h14v2h-14zM35.5 215.8h21v2h-21zM77.5 215.8h17v2h-17zM223.5 215.8h12v2h-12zM37.5 217.8h19v3h-19zM77.5 217.8h19v3h-19zM226.5 217.8h9v3h-9zM40.5 220.8h18v2h-18zM77.5 220.8h19v2h-19zM228.5 220.8h7v2h-7zM40.5 222.8h23v2h-23zM77.5 222.8h19v2h-19zM228.5 222.8h7v2h-7zM44.5 224.8h21v3h-21zM70.5 224.8h24v3h-24zM228.5 224.8h7v3h-7zM47.5 227.8h44v2h-44zM54.5 229.8h40v2h-40zM58.5 231.8h36v3h-36zM65.5 234.8h36v2h-36zM68.5 236.8h33v2h-33zM70.5 238.8h31v3h-31zM124.5 238.8h3v3h-3zM70.5 241.8h33v2h-33zM124.5 241.8h3v2h-3zM73.5 243.8h30v2h-30zM124.5 243.8h3v2h-3zM75.5 245.8h28v3h-28zM75.5 248.8h26v2h-26zM75.5 250.8h5v2h-5zM82.5 250.8h19v2h-19zM75.5 252.8h19v3h-19zM98.5 252.8h3v3h-3zM77.5 255.8h10v2h-10zM89.5 255.8h9v2h-9zM75.5 257.8h5v2h-5zM82.5 257.8h19v2h-19zM75.5 259.8h19v3h-19zM96.5 259.8h2v3h-2zM77.5 262.8h7v2h-7zM89.5 262.8h12v2h-12zM80.5 264.8h4v2h-4zM87.5 264.8h4v2h-4zM96.5 264.8h5v2h-5zM80.5 266.8h4v3h-4zM89.5 266.8h9v3h-9zM91.5 269.8h7v2h-7zM96.5 271.8h2v2h-2zM127.5 273.8h7v3h-7zM105.5 276.8h3v2h-3zM110.5 276.8h12v2h-12zM124.5 276.8h12v2h-12zM105.5 278.8h3v2h-3zM110.5 278.8h19v2h-19zM131.5 278.8h5v2h-5zM103.5 280.8h24v3h-24zM129.5 280.8h5v3h-5zM103.5 283.8h17v2h-17zM127.5 283.8h2v2h-2zM131.5 283.8h5v2h-5zM103.5 285.8h12v3h-12zM117.5 285.8h10v3h-10zM129.5 285.8h5v3h-5zM105.5 288.8h22v2h-22zM129.5 288.8h2v2h-2zM105.5 290.8h24v2h-24z"/><path fill="#0f6fe0" d="M91.5 23.8h14v2h-14zM186.5 30.8h11v2h-11zM4.5 91.8h26v2h-26zM4.5 93.8h26v2h-26zM28.5 95.8h9v3h-9zM40.5 98.8h42v2h-42zM40.5 100.8h42v2h-42zM186.5 130.8h49v3h-49zM157.5 133.8h78v2h-78zM141.5 135.8h94v2h-94zM134.5 137.8h101v3h-101zM127.5 140.8h108v2h-108zM122.5 142.8h113v3h-113zM117.5 145.8h118v2h-118zM115.5 147.8h120v2h-120zM113.5 149.8h122v3h-122zM113.5 152.8h122v2h-122zM110.5 154.8h125v2h-125zM110.5 156.8h125v3h-125zM113.5 159.8h122v2h-122zM115.5 161.8h120v2h-120zM120.5 163.8h99v3h-99zM129.5 166.8h71v2h-71zM9.5 243.8h2v2h-2zM14.5 243.8h2v2h-2zM2.5 245.8h5v3h-5zM2.5 248.8h2v2h-2zM9.5 248.8h2v2h-2zM0.5 250.8h2v2h-2zM4.5 250.8h3v2h-3zM9.5 250.8h2v2h-2zM9.5 252.8h5v3h-5zM0.5 255.8h4v2h-4zM0.5 257.8h2v2h-2zM4.5 257.8h3v2h-3zM0.5 259.8h2v3h-2zM4.5 259.8h3v3h-3zM9.5 259.8h2v3h-2zM4.5 264.8h3v2h-3zM14.5 264.8h2v2h-2z"/><path fill="#3b2e96" d="M51.5 147.8h3v2h-3zM49.5 149.8h7v3h-7zM61.5 149.8h9v3h-9zM47.5 152.8h23v2h-23zM42.5 154.8h28v2h-28zM37.5 156.8h31v3h-31zM30.5 159.8h38v2h-38zM30.5 161.8h33v2h-33zM32.5 163.8h26v3h-26zM32.5 166.8h24v2h-24zM32.5 168.8h22v2h-22zM30.5 170.8h21v3h-21zM30.5 173.8h17v2h-17zM40.5 175.8h4v2h-4z"/><path fill="#f8ee1c" d="M28.5 231.8h23v3h-23zM18.5 234.8h33v2h-33zM61.5 234.8h4v2h-4zM21.5 236.8h28v2h-28zM63.5 236.8h5v2h-5zM68.5 238.8h2v3h-2zM68.5 243.8h5v2h-5zM56.5 245.8h19v3h-19zM14.5 248.8h2v2h-2zM18.5 248.8h57v2h-57zM18.5 250.8h57v2h-57zM80.5 250.8h2v2h-2zM228.5 250.8h2v2h-2zM18.5 252.8h57v3h-57zM16.5 255.8h59v2h-59zM87.5 255.8h2v2h-2zM214.5 255.8h2v2h-2zM16.5 257.8h59v2h-59zM105.5 257.8h3v2h-3zM148.5 257.8h2v2h-2zM14.5 259.8h61v3h-61zM216.5 259.8h3v3h-3zM223.5 259.8h5v3h-5zM11.5 262.8h66v2h-66zM87.5 262.8h2v2h-2zM108.5 262.8h2v2h-2zM157.5 262.8h3v2h-3zM223.5 262.8h3v2h-3zM230.5 262.8h3v2h-3zM11.5 264.8h3v2h-3zM16.5 264.8h61v2h-61zM9.5 266.8h66v3h-66zM77.5 266.8h3v3h-3zM84.5 266.8h3v3h-3zM98.5 266.8h12v3h-12zM113.5 266.8h2v3h-2zM153.5 266.8h2v3h-2zM223.5 266.8h5v3h-5zM0.5 269.8h2v2h-2zM7.5 269.8h75v2h-75zM98.5 269.8h26v2h-26zM174.5 269.8h9v2h-9zM216.5 269.8h3v2h-3zM0.5 271.8h80v2h-80zM87.5 271.8h2v2h-2zM101.5 271.8h26v2h-26zM162.5 271.8h21v2h-21zM211.5 271.8h3v2h-3zM230.5 271.8h3v2h-3zM0.5 273.8h80v3h-80zM89.5 273.8h9v3h-9zM101.5 273.8h4v3h-4zM113.5 273.8h14v3h-14zM160.5 273.8h26v3h-26zM233.5 273.8h2v3h-2zM0.5 276.8h77v2h-77zM89.5 276.8h7v2h-7zM98.5 276.8h7v2h-7zM157.5 276.8h31v2h-31zM228.5 276.8h7v2h-7zM0.5 278.8h75v2h-75zM96.5 278.8h9v2h-9zM155.5 278.8h33v2h-33zM223.5 278.8h12v2h-12zM0.5 280.8h73v3h-73zM77.5 280.8h3v3h-3zM84.5 280.8h3v3h-3zM98.5 280.8h3v3h-3zM155.5 280.8h35v3h-35zM219.5 280.8h16v3h-16zM0.5 283.8h70v2h-70zM155.5 283.8h38v2h-38zM216.5 283.8h19v2h-19zM0.5 285.8h68v3h-68zM138.5 285.8h3v3h-3zM153.5 285.8h42v3h-42zM216.5 285.8h5v3h-5zM223.5 285.8h12v3h-12zM0.5 288.8h68v2h-68zM84.5 288.8h3v2h-3zM143.5 288.8h3v2h-3zM153.5 288.8h44v2h-44zM216.5 288.8h19v2h-19zM0.5 290.8h68v2h-68zM153.5 290.8h47v2h-47zM216.5 290.8h19v2h-19z"/><path fill="#3a30a8" d="M51.5 231.8h7v3h-7zM51.5 234.8h10v2h-10zM49.5 236.8h14v2h-14zM16.5 238.8h52v3h-52zM9.5 241.8h61v2h-61zM11.5 243.8h3v2h-3zM16.5 243.8h52v2h-52zM11.5 245.8h45v3h-45zM16.5 248.8h2v2h-2z"/><path fill="#1277dc" d="M209.5 243.8h26v2h-26zM202.5 245.8h33v3h-33zM101.5 248.8h16v2h-16zM120.5 248.8h49v2h-49zM200.5 248.8h35v2h-35zM101.5 250.8h113v2h-113zM219.5 250.8h9v2h-9zM230.5 250.8h5v2h-5zM94.5 252.8h4v3h-4zM101.5 252.8h110v3h-110zM214.5 252.8h21v3h-21zM75.5 255.8h2v2h-2zM98.5 255.8h116v2h-116zM216.5 255.8h19v2h-19zM80.5 257.8h2v2h-2zM101.5 257.8h4v2h-4zM108.5 257.8h40v2h-40zM150.5 257.8h85v2h-85zM94.5 259.8h2v3h-2zM98.5 259.8h118v3h-118zM219.5 259.8h4v3h-4zM228.5 259.8h7v3h-7zM84.5 262.8h3v2h-3zM101.5 262.8h7v2h-7zM110.5 262.8h47v2h-47zM160.5 262.8h63v2h-63zM228.5 262.8h2v2h-2zM233.5 262.8h2v2h-2zM77.5 264.8h3v2h-3zM84.5 264.8h3v2h-3zM91.5 264.8h5v2h-5zM101.5 264.8h129v2h-129zM75.5 266.8h2v3h-2zM87.5 266.8h2v3h-2zM110.5 266.8h3v3h-3zM115.5 266.8h38v3h-38zM155.5 266.8h26v3h-26zM195.5 266.8h28v3h-28zM82.5 269.8h9v2h-9zM124.5 269.8h50v2h-50zM197.5 269.8h19v2h-19zM219.5 269.8h7v2h-7zM80.5 271.8h7v2h-7zM89.5 271.8h7v2h-7zM98.5 271.8h3v2h-3zM127.5 271.8h35v2h-35zM183.5 271.8h3v2h-3zM200.5 271.8h11v2h-11zM214.5 271.8h7v2h-7zM80.5 273.8h9v3h-9zM98.5 273.8h3v3h-3zM105.5 273.8h8v3h-8zM134.5 273.8h26v3h-26zM186.5 273.8h2v3h-2zM207.5 273.8h12v3h-12zM77.5 276.8h12v2h-12zM96.5 276.8h2v2h-2zM108.5 276.8h2v2h-2zM122.5 276.8h2v2h-2zM136.5 276.8h21v2h-21zM75.5 278.8h21v2h-21zM108.5 278.8h2v2h-2zM129.5 278.8h2v2h-2zM136.5 278.8h19v2h-19zM188.5 278.8h2v2h-2zM73.5 280.8h4v3h-4zM80.5 280.8h4v3h-4zM87.5 280.8h11v3h-11zM101.5 280.8h2v3h-2zM127.5 280.8h2v3h-2zM134.5 280.8h21v3h-21zM190.5 280.8h3v3h-3zM70.5 283.8h33v2h-33zM120.5 283.8h7v2h-7zM129.5 283.8h2v2h-2zM136.5 283.8h19v2h-19zM193.5 283.8h2v2h-2zM70.5 285.8h33v3h-33zM115.5 285.8h2v3h-2zM127.5 285.8h2v3h-2zM134.5 285.8h4v3h-4zM141.5 285.8h12v3h-12zM195.5 285.8h2v3h-2zM70.5 288.8h14v2h-14zM87.5 288.8h18v2h-18zM127.5 288.8h2v2h-2zM131.5 288.8h12v2h-12zM146.5 288.8h7v2h-7zM197.5 288.8h3v2h-3zM70.5 290.8h35v2h-35zM129.5 290.8h24v2h-24z"/><path fill="#22ae9e" d="M214.5 250.8h5v2h-5zM211.5 252.8h3v3h-3zM226.5 262.8h2v2h-2zM181.5 266.8h14v3h-14zM183.5 269.8h14v2h-14zM226.5 269.8h2v2h-2zM186.5 271.8h7v2h-7zM233.5 271.8h2v2h-2zM188.5 273.8h2v3h-2zM226.5 273.8h7v3h-7zM209.5 276.8h19v2h-19zM211.5 278.8h12v2h-12zM211.5 280.8h8v3h-8zM211.5 283.8h5v2h-5zM214.5 285.8h2v3h-2zM221.5 285.8h2v3h-2zM214.5 288.8h2v2h-2zM200.5 290.8h2v2h-2zM214.5 290.8h2v2h-2z"/><path fill="#1f86d4" d="M193.5 271.8h7v2h-7zM190.5 273.8h17v3h-17zM188.5 276.8h21v2h-21zM190.5 278.8h21v2h-21zM193.5 280.8h18v3h-18zM195.5 283.8h16v2h-16zM197.5 285.8h17v3h-17zM200.5 288.8h14v2h-14zM202.5 290.8h12v2h-12z"/></g>
<rect x="89.5" y="336.2" width="235.5" height="293" fill="none" stroke="#333" stroke-width="0.6"/>
<line x1="148.2" y1="629.2" x2="148.2" y2="626.8" stroke="#333" stroke-width="0.6"/>
<line x1="148.2" y1="336.2" x2="148.2" y2="338.6" stroke="#333" stroke-width="0.6"/>
<line x1="206.5" y1="629.2" x2="206.5" y2="626.8" stroke="#333" stroke-width="0.6"/>
<line x1="206.5" y1="336.2" x2="206.5" y2="338.6" stroke="#333" stroke-width="0.6"/>
<line x1="265.4" y1="629.2" x2="265.4" y2="626.8" stroke="#333" stroke-width="0.6"/>
<line x1="265.4" y1="336.2" x2="265.4" y2="338.6" stroke="#333" stroke-width="0.6"/>
<line x1="89.5" y1="394.8" x2="91.9" y2="394.8" stroke="#333" stroke-width="0.6"/>
<line x1="325" y1="394.8" x2="322.6" y2="394.8" stroke="#333" stroke-width="0.6"/>
<line x1="89.5" y1="453.4" x2="91.9" y2="453.4" stroke="#333" stroke-width="0.6"/>
<line x1="325" y1="453.4" x2="322.6" y2="453.4" stroke="#333" stroke-width="0.6"/>
<line x1="89.5" y1="512" x2="91.9" y2="512" stroke="#333" stroke-width="0.6"/>
<line x1="325" y1="512" x2="322.6" y2="512" stroke="#333" stroke-width="0.6"/>
<line x1="89.5" y1="570.6" x2="91.9" y2="570.6" stroke="#333" stroke-width="0.6"/>
<line x1="325" y1="570.6" x2="322.6" y2="570.6" stroke="#333" stroke-width="0.6"/>
<text transform="translate(77.4,343.65) scale(1.07,1)" font-size="16" text-anchor="end">0</text>
<text transform="translate(77.4,402.19) scale(1.07,1)" font-size="16" text-anchor="end">200</text>
<text transform="translate(77.4,460.73) scale(1.07,1)" font-size="16" text-anchor="end">400</text>
<text transform="translate(77.4,519.27) scale(1.07,1)" font-size="16" text-anchor="end">600</text>
<text transform="translate(77.4,577.81) scale(1.07,1)" font-size="16" text-anchor="end">800</text>
<text transform="translate(77.4,636.35) scale(1.07,1)" font-size="16" text-anchor="end">1000</text>
<text transform="translate(90,652.1) scale(1.07,1)" font-size="16" text-anchor="middle">0</text>
<text transform="translate(148.2,652.1) scale(1.07,1)" font-size="16" text-anchor="middle">200</text>
<text transform="translate(206.5,652.1) scale(1.07,1)" font-size="16" text-anchor="middle">400</text>
<text transform="translate(265.4,652.1) scale(1.07,1)" font-size="16" text-anchor="middle">600</text>
<text transform="translate(324.6,652.1) scale(1.07,1)" font-size="16" text-anchor="middle">800</text>
<text x="139.4" y="677.8" font-size="21.5" textLength="133" lengthAdjust="spacingAndGlyphs">Distance, µm</text>
<text transform="translate(16.8,552.8) rotate(-90)" font-size="21" textLength="132.5" lengthAdjust="spacingAndGlyphs">Distance, µm</text>
<rect x="352.9" y="336.2" width="18.4" height="293.3" fill="url(#par)" stroke="#444" stroke-width="0.5"/>
<text transform="translate(380.6,372.55) scale(1.07,1)" font-size="16">2900</text>
<line x1="369.3" y1="365.4" x2="371.3" y2="365.4" stroke="#333" stroke-width="0.5"/>
<text transform="translate(380.6,416.72) scale(1.07,1)" font-size="16">2800</text>
<line x1="369.3" y1="409.57" x2="371.3" y2="409.57" stroke="#333" stroke-width="0.5"/>
<text transform="translate(380.6,460.89) scale(1.07,1)" font-size="16">2700</text>
<line x1="369.3" y1="453.74" x2="371.3" y2="453.74" stroke="#333" stroke-width="0.5"/>
<text transform="translate(380.6,505.06) scale(1.07,1)" font-size="16">2600</text>
<line x1="369.3" y1="497.91" x2="371.3" y2="497.91" stroke="#333" stroke-width="0.5"/>
<text transform="translate(380.6,549.23) scale(1.07,1)" font-size="16">2500</text>
<line x1="369.3" y1="542.08" x2="371.3" y2="542.08" stroke="#333" stroke-width="0.5"/>
<text transform="translate(380.6,593.4) scale(1.07,1)" font-size="16">2400</text>
<line x1="369.3" y1="586.25" x2="371.3" y2="586.25" stroke="#333" stroke-width="0.5"/>
<text transform="translate(453.9,563) rotate(-90)" font-size="22" textLength="184.5" lengthAdjust="spacingAndGlyphs">SAW velocity, m/s</text>
</svg></body></html>
